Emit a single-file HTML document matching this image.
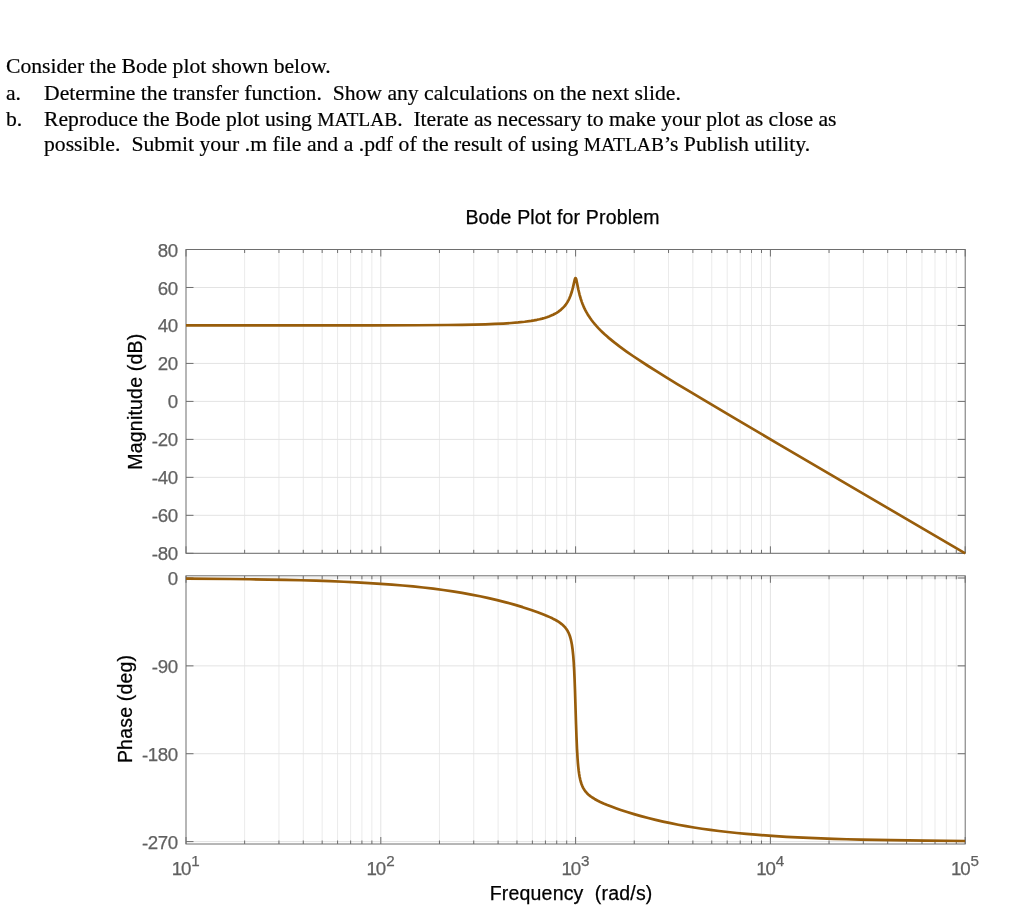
<!DOCTYPE html>
<html><head><meta charset="utf-8"><title>Bode Plot</title>
<style>
html,body{margin:0;padding:0;background:#fff;}
body{width:1024px;height:911px;position:relative;overflow:hidden;}
.t{position:absolute;left:-0.9px;top:0;will-change:transform;font-family:"Liberation Serif","Times New Roman",serif;font-size:21.67px;color:#000;white-space:nowrap;-webkit-text-stroke:0.2px #000;}
.ln{position:absolute;white-space:nowrap;line-height:1;}
.sc{font-size:19.5px;}
svg.plot{position:absolute;left:0;top:0;will-change:transform;}
</style></head><body>
<div class="t">
<div class="ln" style="left:7px;top:56.4px">Consider the Bode plot shown below.</div>
<div class="ln" style="left:7px;top:82.85px">a.</div>
<div class="ln" style="left:45px;top:82.85px">Determine the transfer function.&nbsp; Show any calculations on the next slide.</div>
<div class="ln" style="left:7px;top:108.55px">b.</div>
<div class="ln" style="left:45px;top:108.55px;word-spacing:-0.1px">Reproduce the Bode plot using <span class="sc">MATLAB</span>.&nbsp; Iterate as necessary to make your plot as close as</div>
<div class="ln" style="left:45px;top:133.65px;word-spacing:0.1px">possible.&nbsp; Submit your .m file and a .pdf of the result of using <span class="sc">MATLAB</span>&rsquo;s Publish utility.</div>
</div>
<svg class="plot" width="1024" height="911" viewBox="0 0 1024 911">
<line x1="244.64" y1="249.5" x2="244.64" y2="553.3" stroke="#ebebeb" stroke-width="1"/>
<line x1="278.94" y1="249.5" x2="278.94" y2="553.3" stroke="#ebebeb" stroke-width="1"/>
<line x1="303.28" y1="249.5" x2="303.28" y2="553.3" stroke="#ebebeb" stroke-width="1"/>
<line x1="322.16" y1="249.5" x2="322.16" y2="553.3" stroke="#ebebeb" stroke-width="1"/>
<line x1="337.58" y1="249.5" x2="337.58" y2="553.3" stroke="#ebebeb" stroke-width="1"/>
<line x1="350.63" y1="249.5" x2="350.63" y2="553.3" stroke="#ebebeb" stroke-width="1"/>
<line x1="361.92" y1="249.5" x2="361.92" y2="553.3" stroke="#ebebeb" stroke-width="1"/>
<line x1="371.89" y1="249.5" x2="371.89" y2="553.3" stroke="#ebebeb" stroke-width="1"/>
<line x1="439.44" y1="249.5" x2="439.44" y2="553.3" stroke="#ebebeb" stroke-width="1"/>
<line x1="473.74" y1="249.5" x2="473.74" y2="553.3" stroke="#ebebeb" stroke-width="1"/>
<line x1="498.08" y1="249.5" x2="498.08" y2="553.3" stroke="#ebebeb" stroke-width="1"/>
<line x1="516.96" y1="249.5" x2="516.96" y2="553.3" stroke="#ebebeb" stroke-width="1"/>
<line x1="532.38" y1="249.5" x2="532.38" y2="553.3" stroke="#ebebeb" stroke-width="1"/>
<line x1="545.43" y1="249.5" x2="545.43" y2="553.3" stroke="#ebebeb" stroke-width="1"/>
<line x1="556.72" y1="249.5" x2="556.72" y2="553.3" stroke="#ebebeb" stroke-width="1"/>
<line x1="566.69" y1="249.5" x2="566.69" y2="553.3" stroke="#ebebeb" stroke-width="1"/>
<line x1="634.24" y1="249.5" x2="634.24" y2="553.3" stroke="#ebebeb" stroke-width="1"/>
<line x1="668.54" y1="249.5" x2="668.54" y2="553.3" stroke="#ebebeb" stroke-width="1"/>
<line x1="692.88" y1="249.5" x2="692.88" y2="553.3" stroke="#ebebeb" stroke-width="1"/>
<line x1="711.76" y1="249.5" x2="711.76" y2="553.3" stroke="#ebebeb" stroke-width="1"/>
<line x1="727.18" y1="249.5" x2="727.18" y2="553.3" stroke="#ebebeb" stroke-width="1"/>
<line x1="740.23" y1="249.5" x2="740.23" y2="553.3" stroke="#ebebeb" stroke-width="1"/>
<line x1="751.52" y1="249.5" x2="751.52" y2="553.3" stroke="#ebebeb" stroke-width="1"/>
<line x1="761.49" y1="249.5" x2="761.49" y2="553.3" stroke="#ebebeb" stroke-width="1"/>
<line x1="829.04" y1="249.5" x2="829.04" y2="553.3" stroke="#ebebeb" stroke-width="1"/>
<line x1="863.34" y1="249.5" x2="863.34" y2="553.3" stroke="#ebebeb" stroke-width="1"/>
<line x1="887.68" y1="249.5" x2="887.68" y2="553.3" stroke="#ebebeb" stroke-width="1"/>
<line x1="906.56" y1="249.5" x2="906.56" y2="553.3" stroke="#ebebeb" stroke-width="1"/>
<line x1="921.98" y1="249.5" x2="921.98" y2="553.3" stroke="#ebebeb" stroke-width="1"/>
<line x1="935.03" y1="249.5" x2="935.03" y2="553.3" stroke="#ebebeb" stroke-width="1"/>
<line x1="946.32" y1="249.5" x2="946.32" y2="553.3" stroke="#ebebeb" stroke-width="1"/>
<line x1="956.29" y1="249.5" x2="956.29" y2="553.3" stroke="#ebebeb" stroke-width="1"/>
<line x1="380.80" y1="249.5" x2="380.80" y2="553.3" stroke="#e3e3e3" stroke-width="1"/>
<line x1="575.60" y1="249.5" x2="575.60" y2="553.3" stroke="#e3e3e3" stroke-width="1"/>
<line x1="770.40" y1="249.5" x2="770.40" y2="553.3" stroke="#e3e3e3" stroke-width="1"/>
<line x1="186.0" y1="249.50" x2="965.20" y2="249.50" stroke="#e3e3e3" stroke-width="1"/>
<line x1="186.0" y1="287.48" x2="965.20" y2="287.48" stroke="#e3e3e3" stroke-width="1"/>
<line x1="186.0" y1="325.45" x2="965.20" y2="325.45" stroke="#e3e3e3" stroke-width="1"/>
<line x1="186.0" y1="363.42" x2="965.20" y2="363.42" stroke="#e3e3e3" stroke-width="1"/>
<line x1="186.0" y1="401.40" x2="965.20" y2="401.40" stroke="#e3e3e3" stroke-width="1"/>
<line x1="186.0" y1="439.38" x2="965.20" y2="439.38" stroke="#e3e3e3" stroke-width="1"/>
<line x1="186.0" y1="477.35" x2="965.20" y2="477.35" stroke="#e3e3e3" stroke-width="1"/>
<line x1="186.0" y1="515.32" x2="965.20" y2="515.32" stroke="#e3e3e3" stroke-width="1"/>
<line x1="186.0" y1="553.30" x2="965.20" y2="553.30" stroke="#e3e3e3" stroke-width="1"/>
<line x1="244.64" y1="575.8" x2="244.64" y2="844.0" stroke="#ebebeb" stroke-width="1"/>
<line x1="278.94" y1="575.8" x2="278.94" y2="844.0" stroke="#ebebeb" stroke-width="1"/>
<line x1="303.28" y1="575.8" x2="303.28" y2="844.0" stroke="#ebebeb" stroke-width="1"/>
<line x1="322.16" y1="575.8" x2="322.16" y2="844.0" stroke="#ebebeb" stroke-width="1"/>
<line x1="337.58" y1="575.8" x2="337.58" y2="844.0" stroke="#ebebeb" stroke-width="1"/>
<line x1="350.63" y1="575.8" x2="350.63" y2="844.0" stroke="#ebebeb" stroke-width="1"/>
<line x1="361.92" y1="575.8" x2="361.92" y2="844.0" stroke="#ebebeb" stroke-width="1"/>
<line x1="371.89" y1="575.8" x2="371.89" y2="844.0" stroke="#ebebeb" stroke-width="1"/>
<line x1="439.44" y1="575.8" x2="439.44" y2="844.0" stroke="#ebebeb" stroke-width="1"/>
<line x1="473.74" y1="575.8" x2="473.74" y2="844.0" stroke="#ebebeb" stroke-width="1"/>
<line x1="498.08" y1="575.8" x2="498.08" y2="844.0" stroke="#ebebeb" stroke-width="1"/>
<line x1="516.96" y1="575.8" x2="516.96" y2="844.0" stroke="#ebebeb" stroke-width="1"/>
<line x1="532.38" y1="575.8" x2="532.38" y2="844.0" stroke="#ebebeb" stroke-width="1"/>
<line x1="545.43" y1="575.8" x2="545.43" y2="844.0" stroke="#ebebeb" stroke-width="1"/>
<line x1="556.72" y1="575.8" x2="556.72" y2="844.0" stroke="#ebebeb" stroke-width="1"/>
<line x1="566.69" y1="575.8" x2="566.69" y2="844.0" stroke="#ebebeb" stroke-width="1"/>
<line x1="634.24" y1="575.8" x2="634.24" y2="844.0" stroke="#ebebeb" stroke-width="1"/>
<line x1="668.54" y1="575.8" x2="668.54" y2="844.0" stroke="#ebebeb" stroke-width="1"/>
<line x1="692.88" y1="575.8" x2="692.88" y2="844.0" stroke="#ebebeb" stroke-width="1"/>
<line x1="711.76" y1="575.8" x2="711.76" y2="844.0" stroke="#ebebeb" stroke-width="1"/>
<line x1="727.18" y1="575.8" x2="727.18" y2="844.0" stroke="#ebebeb" stroke-width="1"/>
<line x1="740.23" y1="575.8" x2="740.23" y2="844.0" stroke="#ebebeb" stroke-width="1"/>
<line x1="751.52" y1="575.8" x2="751.52" y2="844.0" stroke="#ebebeb" stroke-width="1"/>
<line x1="761.49" y1="575.8" x2="761.49" y2="844.0" stroke="#ebebeb" stroke-width="1"/>
<line x1="829.04" y1="575.8" x2="829.04" y2="844.0" stroke="#ebebeb" stroke-width="1"/>
<line x1="863.34" y1="575.8" x2="863.34" y2="844.0" stroke="#ebebeb" stroke-width="1"/>
<line x1="887.68" y1="575.8" x2="887.68" y2="844.0" stroke="#ebebeb" stroke-width="1"/>
<line x1="906.56" y1="575.8" x2="906.56" y2="844.0" stroke="#ebebeb" stroke-width="1"/>
<line x1="921.98" y1="575.8" x2="921.98" y2="844.0" stroke="#ebebeb" stroke-width="1"/>
<line x1="935.03" y1="575.8" x2="935.03" y2="844.0" stroke="#ebebeb" stroke-width="1"/>
<line x1="946.32" y1="575.8" x2="946.32" y2="844.0" stroke="#ebebeb" stroke-width="1"/>
<line x1="956.29" y1="575.8" x2="956.29" y2="844.0" stroke="#ebebeb" stroke-width="1"/>
<line x1="380.80" y1="575.8" x2="380.80" y2="844.0" stroke="#e3e3e3" stroke-width="1"/>
<line x1="575.60" y1="575.8" x2="575.60" y2="844.0" stroke="#e3e3e3" stroke-width="1"/>
<line x1="770.40" y1="575.8" x2="770.40" y2="844.0" stroke="#e3e3e3" stroke-width="1"/>
<line x1="186.0" y1="578.00" x2="965.20" y2="578.00" stroke="#e3e3e3" stroke-width="1"/>
<line x1="186.0" y1="665.87" x2="965.20" y2="665.87" stroke="#e3e3e3" stroke-width="1"/>
<line x1="186.0" y1="753.73" x2="965.20" y2="753.73" stroke="#e3e3e3" stroke-width="1"/>
<line x1="186.0" y1="841.60" x2="965.20" y2="841.60" stroke="#e3e3e3" stroke-width="1"/>
<line x1="186.00" y1="249.5" x2="186.00" y2="256.5" stroke="#6e6e6e" stroke-width="1"/>
<line x1="186.00" y1="553.3" x2="186.00" y2="546.3" stroke="#6e6e6e" stroke-width="1"/>
<line x1="244.64" y1="249.5" x2="244.64" y2="253.0" stroke="#6e6e6e" stroke-width="1"/>
<line x1="244.64" y1="553.3" x2="244.64" y2="549.8" stroke="#6e6e6e" stroke-width="1"/>
<line x1="278.94" y1="249.5" x2="278.94" y2="253.0" stroke="#6e6e6e" stroke-width="1"/>
<line x1="278.94" y1="553.3" x2="278.94" y2="549.8" stroke="#6e6e6e" stroke-width="1"/>
<line x1="303.28" y1="249.5" x2="303.28" y2="253.0" stroke="#6e6e6e" stroke-width="1"/>
<line x1="303.28" y1="553.3" x2="303.28" y2="549.8" stroke="#6e6e6e" stroke-width="1"/>
<line x1="322.16" y1="249.5" x2="322.16" y2="253.0" stroke="#6e6e6e" stroke-width="1"/>
<line x1="322.16" y1="553.3" x2="322.16" y2="549.8" stroke="#6e6e6e" stroke-width="1"/>
<line x1="337.58" y1="249.5" x2="337.58" y2="253.0" stroke="#6e6e6e" stroke-width="1"/>
<line x1="337.58" y1="553.3" x2="337.58" y2="549.8" stroke="#6e6e6e" stroke-width="1"/>
<line x1="350.63" y1="249.5" x2="350.63" y2="253.0" stroke="#6e6e6e" stroke-width="1"/>
<line x1="350.63" y1="553.3" x2="350.63" y2="549.8" stroke="#6e6e6e" stroke-width="1"/>
<line x1="361.92" y1="249.5" x2="361.92" y2="253.0" stroke="#6e6e6e" stroke-width="1"/>
<line x1="361.92" y1="553.3" x2="361.92" y2="549.8" stroke="#6e6e6e" stroke-width="1"/>
<line x1="371.89" y1="249.5" x2="371.89" y2="253.0" stroke="#6e6e6e" stroke-width="1"/>
<line x1="371.89" y1="553.3" x2="371.89" y2="549.8" stroke="#6e6e6e" stroke-width="1"/>
<line x1="380.80" y1="249.5" x2="380.80" y2="256.5" stroke="#6e6e6e" stroke-width="1"/>
<line x1="380.80" y1="553.3" x2="380.80" y2="546.3" stroke="#6e6e6e" stroke-width="1"/>
<line x1="439.44" y1="249.5" x2="439.44" y2="253.0" stroke="#6e6e6e" stroke-width="1"/>
<line x1="439.44" y1="553.3" x2="439.44" y2="549.8" stroke="#6e6e6e" stroke-width="1"/>
<line x1="473.74" y1="249.5" x2="473.74" y2="253.0" stroke="#6e6e6e" stroke-width="1"/>
<line x1="473.74" y1="553.3" x2="473.74" y2="549.8" stroke="#6e6e6e" stroke-width="1"/>
<line x1="498.08" y1="249.5" x2="498.08" y2="253.0" stroke="#6e6e6e" stroke-width="1"/>
<line x1="498.08" y1="553.3" x2="498.08" y2="549.8" stroke="#6e6e6e" stroke-width="1"/>
<line x1="516.96" y1="249.5" x2="516.96" y2="253.0" stroke="#6e6e6e" stroke-width="1"/>
<line x1="516.96" y1="553.3" x2="516.96" y2="549.8" stroke="#6e6e6e" stroke-width="1"/>
<line x1="532.38" y1="249.5" x2="532.38" y2="253.0" stroke="#6e6e6e" stroke-width="1"/>
<line x1="532.38" y1="553.3" x2="532.38" y2="549.8" stroke="#6e6e6e" stroke-width="1"/>
<line x1="545.43" y1="249.5" x2="545.43" y2="253.0" stroke="#6e6e6e" stroke-width="1"/>
<line x1="545.43" y1="553.3" x2="545.43" y2="549.8" stroke="#6e6e6e" stroke-width="1"/>
<line x1="556.72" y1="249.5" x2="556.72" y2="253.0" stroke="#6e6e6e" stroke-width="1"/>
<line x1="556.72" y1="553.3" x2="556.72" y2="549.8" stroke="#6e6e6e" stroke-width="1"/>
<line x1="566.69" y1="249.5" x2="566.69" y2="253.0" stroke="#6e6e6e" stroke-width="1"/>
<line x1="566.69" y1="553.3" x2="566.69" y2="549.8" stroke="#6e6e6e" stroke-width="1"/>
<line x1="575.60" y1="249.5" x2="575.60" y2="256.5" stroke="#6e6e6e" stroke-width="1"/>
<line x1="575.60" y1="553.3" x2="575.60" y2="546.3" stroke="#6e6e6e" stroke-width="1"/>
<line x1="634.24" y1="249.5" x2="634.24" y2="253.0" stroke="#6e6e6e" stroke-width="1"/>
<line x1="634.24" y1="553.3" x2="634.24" y2="549.8" stroke="#6e6e6e" stroke-width="1"/>
<line x1="668.54" y1="249.5" x2="668.54" y2="253.0" stroke="#6e6e6e" stroke-width="1"/>
<line x1="668.54" y1="553.3" x2="668.54" y2="549.8" stroke="#6e6e6e" stroke-width="1"/>
<line x1="692.88" y1="249.5" x2="692.88" y2="253.0" stroke="#6e6e6e" stroke-width="1"/>
<line x1="692.88" y1="553.3" x2="692.88" y2="549.8" stroke="#6e6e6e" stroke-width="1"/>
<line x1="711.76" y1="249.5" x2="711.76" y2="253.0" stroke="#6e6e6e" stroke-width="1"/>
<line x1="711.76" y1="553.3" x2="711.76" y2="549.8" stroke="#6e6e6e" stroke-width="1"/>
<line x1="727.18" y1="249.5" x2="727.18" y2="253.0" stroke="#6e6e6e" stroke-width="1"/>
<line x1="727.18" y1="553.3" x2="727.18" y2="549.8" stroke="#6e6e6e" stroke-width="1"/>
<line x1="740.23" y1="249.5" x2="740.23" y2="253.0" stroke="#6e6e6e" stroke-width="1"/>
<line x1="740.23" y1="553.3" x2="740.23" y2="549.8" stroke="#6e6e6e" stroke-width="1"/>
<line x1="751.52" y1="249.5" x2="751.52" y2="253.0" stroke="#6e6e6e" stroke-width="1"/>
<line x1="751.52" y1="553.3" x2="751.52" y2="549.8" stroke="#6e6e6e" stroke-width="1"/>
<line x1="761.49" y1="249.5" x2="761.49" y2="253.0" stroke="#6e6e6e" stroke-width="1"/>
<line x1="761.49" y1="553.3" x2="761.49" y2="549.8" stroke="#6e6e6e" stroke-width="1"/>
<line x1="770.40" y1="249.5" x2="770.40" y2="256.5" stroke="#6e6e6e" stroke-width="1"/>
<line x1="770.40" y1="553.3" x2="770.40" y2="546.3" stroke="#6e6e6e" stroke-width="1"/>
<line x1="829.04" y1="249.5" x2="829.04" y2="253.0" stroke="#6e6e6e" stroke-width="1"/>
<line x1="829.04" y1="553.3" x2="829.04" y2="549.8" stroke="#6e6e6e" stroke-width="1"/>
<line x1="863.34" y1="249.5" x2="863.34" y2="253.0" stroke="#6e6e6e" stroke-width="1"/>
<line x1="863.34" y1="553.3" x2="863.34" y2="549.8" stroke="#6e6e6e" stroke-width="1"/>
<line x1="887.68" y1="249.5" x2="887.68" y2="253.0" stroke="#6e6e6e" stroke-width="1"/>
<line x1="887.68" y1="553.3" x2="887.68" y2="549.8" stroke="#6e6e6e" stroke-width="1"/>
<line x1="906.56" y1="249.5" x2="906.56" y2="253.0" stroke="#6e6e6e" stroke-width="1"/>
<line x1="906.56" y1="553.3" x2="906.56" y2="549.8" stroke="#6e6e6e" stroke-width="1"/>
<line x1="921.98" y1="249.5" x2="921.98" y2="253.0" stroke="#6e6e6e" stroke-width="1"/>
<line x1="921.98" y1="553.3" x2="921.98" y2="549.8" stroke="#6e6e6e" stroke-width="1"/>
<line x1="935.03" y1="249.5" x2="935.03" y2="253.0" stroke="#6e6e6e" stroke-width="1"/>
<line x1="935.03" y1="553.3" x2="935.03" y2="549.8" stroke="#6e6e6e" stroke-width="1"/>
<line x1="946.32" y1="249.5" x2="946.32" y2="253.0" stroke="#6e6e6e" stroke-width="1"/>
<line x1="946.32" y1="553.3" x2="946.32" y2="549.8" stroke="#6e6e6e" stroke-width="1"/>
<line x1="956.29" y1="249.5" x2="956.29" y2="253.0" stroke="#6e6e6e" stroke-width="1"/>
<line x1="956.29" y1="553.3" x2="956.29" y2="549.8" stroke="#6e6e6e" stroke-width="1"/>
<line x1="965.20" y1="249.5" x2="965.20" y2="256.5" stroke="#6e6e6e" stroke-width="1"/>
<line x1="965.20" y1="553.3" x2="965.20" y2="546.3" stroke="#6e6e6e" stroke-width="1"/>
<line x1="186.0" y1="249.50" x2="193.5" y2="249.50" stroke="#6e6e6e" stroke-width="1"/>
<line x1="965.20" y1="249.50" x2="957.70" y2="249.50" stroke="#6e6e6e" stroke-width="1"/>
<line x1="186.0" y1="287.48" x2="193.5" y2="287.48" stroke="#6e6e6e" stroke-width="1"/>
<line x1="965.20" y1="287.48" x2="957.70" y2="287.48" stroke="#6e6e6e" stroke-width="1"/>
<line x1="186.0" y1="325.45" x2="193.5" y2="325.45" stroke="#6e6e6e" stroke-width="1"/>
<line x1="965.20" y1="325.45" x2="957.70" y2="325.45" stroke="#6e6e6e" stroke-width="1"/>
<line x1="186.0" y1="363.42" x2="193.5" y2="363.42" stroke="#6e6e6e" stroke-width="1"/>
<line x1="965.20" y1="363.42" x2="957.70" y2="363.42" stroke="#6e6e6e" stroke-width="1"/>
<line x1="186.0" y1="401.40" x2="193.5" y2="401.40" stroke="#6e6e6e" stroke-width="1"/>
<line x1="965.20" y1="401.40" x2="957.70" y2="401.40" stroke="#6e6e6e" stroke-width="1"/>
<line x1="186.0" y1="439.38" x2="193.5" y2="439.38" stroke="#6e6e6e" stroke-width="1"/>
<line x1="965.20" y1="439.38" x2="957.70" y2="439.38" stroke="#6e6e6e" stroke-width="1"/>
<line x1="186.0" y1="477.35" x2="193.5" y2="477.35" stroke="#6e6e6e" stroke-width="1"/>
<line x1="965.20" y1="477.35" x2="957.70" y2="477.35" stroke="#6e6e6e" stroke-width="1"/>
<line x1="186.0" y1="515.32" x2="193.5" y2="515.32" stroke="#6e6e6e" stroke-width="1"/>
<line x1="965.20" y1="515.32" x2="957.70" y2="515.32" stroke="#6e6e6e" stroke-width="1"/>
<line x1="186.0" y1="553.30" x2="193.5" y2="553.30" stroke="#6e6e6e" stroke-width="1"/>
<line x1="965.20" y1="553.30" x2="957.70" y2="553.30" stroke="#6e6e6e" stroke-width="1"/>
<rect x="186.0" y="249.5" width="779.20" height="303.80" fill="none" stroke="#6e6e6e" stroke-width="1"/>
<line x1="186.00" y1="575.8" x2="186.00" y2="582.8" stroke="#6e6e6e" stroke-width="1"/>
<line x1="186.00" y1="844.0" x2="186.00" y2="837.0" stroke="#6e6e6e" stroke-width="1"/>
<line x1="244.64" y1="575.8" x2="244.64" y2="579.3" stroke="#6e6e6e" stroke-width="1"/>
<line x1="244.64" y1="844.0" x2="244.64" y2="840.5" stroke="#6e6e6e" stroke-width="1"/>
<line x1="278.94" y1="575.8" x2="278.94" y2="579.3" stroke="#6e6e6e" stroke-width="1"/>
<line x1="278.94" y1="844.0" x2="278.94" y2="840.5" stroke="#6e6e6e" stroke-width="1"/>
<line x1="303.28" y1="575.8" x2="303.28" y2="579.3" stroke="#6e6e6e" stroke-width="1"/>
<line x1="303.28" y1="844.0" x2="303.28" y2="840.5" stroke="#6e6e6e" stroke-width="1"/>
<line x1="322.16" y1="575.8" x2="322.16" y2="579.3" stroke="#6e6e6e" stroke-width="1"/>
<line x1="322.16" y1="844.0" x2="322.16" y2="840.5" stroke="#6e6e6e" stroke-width="1"/>
<line x1="337.58" y1="575.8" x2="337.58" y2="579.3" stroke="#6e6e6e" stroke-width="1"/>
<line x1="337.58" y1="844.0" x2="337.58" y2="840.5" stroke="#6e6e6e" stroke-width="1"/>
<line x1="350.63" y1="575.8" x2="350.63" y2="579.3" stroke="#6e6e6e" stroke-width="1"/>
<line x1="350.63" y1="844.0" x2="350.63" y2="840.5" stroke="#6e6e6e" stroke-width="1"/>
<line x1="361.92" y1="575.8" x2="361.92" y2="579.3" stroke="#6e6e6e" stroke-width="1"/>
<line x1="361.92" y1="844.0" x2="361.92" y2="840.5" stroke="#6e6e6e" stroke-width="1"/>
<line x1="371.89" y1="575.8" x2="371.89" y2="579.3" stroke="#6e6e6e" stroke-width="1"/>
<line x1="371.89" y1="844.0" x2="371.89" y2="840.5" stroke="#6e6e6e" stroke-width="1"/>
<line x1="380.80" y1="575.8" x2="380.80" y2="582.8" stroke="#6e6e6e" stroke-width="1"/>
<line x1="380.80" y1="844.0" x2="380.80" y2="837.0" stroke="#6e6e6e" stroke-width="1"/>
<line x1="439.44" y1="575.8" x2="439.44" y2="579.3" stroke="#6e6e6e" stroke-width="1"/>
<line x1="439.44" y1="844.0" x2="439.44" y2="840.5" stroke="#6e6e6e" stroke-width="1"/>
<line x1="473.74" y1="575.8" x2="473.74" y2="579.3" stroke="#6e6e6e" stroke-width="1"/>
<line x1="473.74" y1="844.0" x2="473.74" y2="840.5" stroke="#6e6e6e" stroke-width="1"/>
<line x1="498.08" y1="575.8" x2="498.08" y2="579.3" stroke="#6e6e6e" stroke-width="1"/>
<line x1="498.08" y1="844.0" x2="498.08" y2="840.5" stroke="#6e6e6e" stroke-width="1"/>
<line x1="516.96" y1="575.8" x2="516.96" y2="579.3" stroke="#6e6e6e" stroke-width="1"/>
<line x1="516.96" y1="844.0" x2="516.96" y2="840.5" stroke="#6e6e6e" stroke-width="1"/>
<line x1="532.38" y1="575.8" x2="532.38" y2="579.3" stroke="#6e6e6e" stroke-width="1"/>
<line x1="532.38" y1="844.0" x2="532.38" y2="840.5" stroke="#6e6e6e" stroke-width="1"/>
<line x1="545.43" y1="575.8" x2="545.43" y2="579.3" stroke="#6e6e6e" stroke-width="1"/>
<line x1="545.43" y1="844.0" x2="545.43" y2="840.5" stroke="#6e6e6e" stroke-width="1"/>
<line x1="556.72" y1="575.8" x2="556.72" y2="579.3" stroke="#6e6e6e" stroke-width="1"/>
<line x1="556.72" y1="844.0" x2="556.72" y2="840.5" stroke="#6e6e6e" stroke-width="1"/>
<line x1="566.69" y1="575.8" x2="566.69" y2="579.3" stroke="#6e6e6e" stroke-width="1"/>
<line x1="566.69" y1="844.0" x2="566.69" y2="840.5" stroke="#6e6e6e" stroke-width="1"/>
<line x1="575.60" y1="575.8" x2="575.60" y2="582.8" stroke="#6e6e6e" stroke-width="1"/>
<line x1="575.60" y1="844.0" x2="575.60" y2="837.0" stroke="#6e6e6e" stroke-width="1"/>
<line x1="634.24" y1="575.8" x2="634.24" y2="579.3" stroke="#6e6e6e" stroke-width="1"/>
<line x1="634.24" y1="844.0" x2="634.24" y2="840.5" stroke="#6e6e6e" stroke-width="1"/>
<line x1="668.54" y1="575.8" x2="668.54" y2="579.3" stroke="#6e6e6e" stroke-width="1"/>
<line x1="668.54" y1="844.0" x2="668.54" y2="840.5" stroke="#6e6e6e" stroke-width="1"/>
<line x1="692.88" y1="575.8" x2="692.88" y2="579.3" stroke="#6e6e6e" stroke-width="1"/>
<line x1="692.88" y1="844.0" x2="692.88" y2="840.5" stroke="#6e6e6e" stroke-width="1"/>
<line x1="711.76" y1="575.8" x2="711.76" y2="579.3" stroke="#6e6e6e" stroke-width="1"/>
<line x1="711.76" y1="844.0" x2="711.76" y2="840.5" stroke="#6e6e6e" stroke-width="1"/>
<line x1="727.18" y1="575.8" x2="727.18" y2="579.3" stroke="#6e6e6e" stroke-width="1"/>
<line x1="727.18" y1="844.0" x2="727.18" y2="840.5" stroke="#6e6e6e" stroke-width="1"/>
<line x1="740.23" y1="575.8" x2="740.23" y2="579.3" stroke="#6e6e6e" stroke-width="1"/>
<line x1="740.23" y1="844.0" x2="740.23" y2="840.5" stroke="#6e6e6e" stroke-width="1"/>
<line x1="751.52" y1="575.8" x2="751.52" y2="579.3" stroke="#6e6e6e" stroke-width="1"/>
<line x1="751.52" y1="844.0" x2="751.52" y2="840.5" stroke="#6e6e6e" stroke-width="1"/>
<line x1="761.49" y1="575.8" x2="761.49" y2="579.3" stroke="#6e6e6e" stroke-width="1"/>
<line x1="761.49" y1="844.0" x2="761.49" y2="840.5" stroke="#6e6e6e" stroke-width="1"/>
<line x1="770.40" y1="575.8" x2="770.40" y2="582.8" stroke="#6e6e6e" stroke-width="1"/>
<line x1="770.40" y1="844.0" x2="770.40" y2="837.0" stroke="#6e6e6e" stroke-width="1"/>
<line x1="829.04" y1="575.8" x2="829.04" y2="579.3" stroke="#6e6e6e" stroke-width="1"/>
<line x1="829.04" y1="844.0" x2="829.04" y2="840.5" stroke="#6e6e6e" stroke-width="1"/>
<line x1="863.34" y1="575.8" x2="863.34" y2="579.3" stroke="#6e6e6e" stroke-width="1"/>
<line x1="863.34" y1="844.0" x2="863.34" y2="840.5" stroke="#6e6e6e" stroke-width="1"/>
<line x1="887.68" y1="575.8" x2="887.68" y2="579.3" stroke="#6e6e6e" stroke-width="1"/>
<line x1="887.68" y1="844.0" x2="887.68" y2="840.5" stroke="#6e6e6e" stroke-width="1"/>
<line x1="906.56" y1="575.8" x2="906.56" y2="579.3" stroke="#6e6e6e" stroke-width="1"/>
<line x1="906.56" y1="844.0" x2="906.56" y2="840.5" stroke="#6e6e6e" stroke-width="1"/>
<line x1="921.98" y1="575.8" x2="921.98" y2="579.3" stroke="#6e6e6e" stroke-width="1"/>
<line x1="921.98" y1="844.0" x2="921.98" y2="840.5" stroke="#6e6e6e" stroke-width="1"/>
<line x1="935.03" y1="575.8" x2="935.03" y2="579.3" stroke="#6e6e6e" stroke-width="1"/>
<line x1="935.03" y1="844.0" x2="935.03" y2="840.5" stroke="#6e6e6e" stroke-width="1"/>
<line x1="946.32" y1="575.8" x2="946.32" y2="579.3" stroke="#6e6e6e" stroke-width="1"/>
<line x1="946.32" y1="844.0" x2="946.32" y2="840.5" stroke="#6e6e6e" stroke-width="1"/>
<line x1="956.29" y1="575.8" x2="956.29" y2="579.3" stroke="#6e6e6e" stroke-width="1"/>
<line x1="956.29" y1="844.0" x2="956.29" y2="840.5" stroke="#6e6e6e" stroke-width="1"/>
<line x1="965.20" y1="575.8" x2="965.20" y2="582.8" stroke="#6e6e6e" stroke-width="1"/>
<line x1="965.20" y1="844.0" x2="965.20" y2="837.0" stroke="#6e6e6e" stroke-width="1"/>
<line x1="186.0" y1="578.00" x2="193.5" y2="578.00" stroke="#6e6e6e" stroke-width="1"/>
<line x1="965.20" y1="578.00" x2="957.70" y2="578.00" stroke="#6e6e6e" stroke-width="1"/>
<line x1="186.0" y1="665.87" x2="193.5" y2="665.87" stroke="#6e6e6e" stroke-width="1"/>
<line x1="965.20" y1="665.87" x2="957.70" y2="665.87" stroke="#6e6e6e" stroke-width="1"/>
<line x1="186.0" y1="753.73" x2="193.5" y2="753.73" stroke="#6e6e6e" stroke-width="1"/>
<line x1="965.20" y1="753.73" x2="957.70" y2="753.73" stroke="#6e6e6e" stroke-width="1"/>
<line x1="186.0" y1="841.60" x2="193.5" y2="841.60" stroke="#6e6e6e" stroke-width="1"/>
<line x1="965.20" y1="841.60" x2="957.70" y2="841.60" stroke="#6e6e6e" stroke-width="1"/>
<rect x="186.0" y="575.8" width="779.20" height="268.20" fill="none" stroke="#6e6e6e" stroke-width="1"/>
<polyline points="186.00,325.45 309.73,325.43 372.67,325.38 416.31,325.25 447.88,325.02 462.10,324.83 474.38,324.59 485.29,324.30 494.84,323.95 503.41,323.53 511.20,323.02 518.22,322.43 524.65,321.74 531.08,320.85 534.00,320.36 536.92,319.80 539.65,319.20 542.18,318.58 544.52,317.93 546.86,317.20 549.00,316.44 551.15,315.58 553.09,314.71 554.85,313.82 556.60,312.82 558.16,311.82 559.72,310.70 561.08,309.59 562.45,308.35 563.62,307.16 564.79,305.82 565.76,304.57 566.74,303.16 567.66,301.68 568.52,300.12 569.33,298.47 570.55,295.54 571.65,292.30 572.26,290.20 572.86,287.90 574.75,279.67 574.99,278.90 575.21,278.40 575.41,278.13 575.60,278.08 575.80,278.25 576.00,278.65 576.45,280.17 578.33,289.44 579.53,294.55 580.64,298.46 581.87,302.12 582.67,304.24 583.54,306.32 584.47,308.36 585.44,310.32 586.41,312.14 587.58,314.17 588.75,316.05 590.12,318.08 591.48,319.98 593.04,322.02 594.60,323.93 596.35,325.95 598.11,327.87 600.05,329.89 602.20,331.99 604.34,334.01 606.68,336.11 609.02,338.12 614.28,342.42 620.12,346.89 626.55,351.54 632.98,355.99 640.00,360.68 647.79,365.75 656.36,371.18 665.91,377.12 676.82,383.79 689.10,391.21 703.32,399.71 734.89,418.41 778.53,444.06 965.20,553.30" fill="none" stroke="#985d0b" stroke-width="2.7" stroke-linejoin="round"/>
<svg x="186.0" y="575.8" width="779.20" height="268.20" viewBox="186.0 575.8 779.20 268.20" overflow="hidden"><polyline points="186.00,578.58 230.23,578.98 249.91,579.24 268.03,579.53 284.98,579.87 300.96,580.26 315.96,580.70 330.19,581.20 343.83,581.75 356.69,582.37 368.96,583.05 380.65,583.79 391.96,584.61 402.67,585.50 413.00,586.46 423.13,587.52 433.26,588.71 443.20,590.02 452.75,591.42 462.10,592.93 471.26,594.57 480.03,596.29 488.60,598.13 497.17,600.13 505.94,602.35 514.32,604.66 522.70,607.16 530.49,609.68 537.70,612.22 544.13,614.70 547.05,615.92 549.78,617.13 552.32,618.34 554.46,619.44 556.41,620.52 558.36,621.71 560.11,622.89 561.67,624.08 563.03,625.25 564.40,626.60 565.57,627.95 566.54,629.25 567.47,630.72 568.32,632.28 569.07,633.95 569.76,635.77 570.38,637.72 570.94,639.87 571.45,642.21 571.92,644.81 572.62,649.79 573.22,655.69 573.75,662.72 574.22,671.11 574.58,679.18 574.95,689.07 576.04,724.28 576.49,737.14 577.00,748.88 577.55,758.27 577.89,762.86 578.26,766.88 578.67,770.52 579.12,773.76 579.61,776.68 580.17,779.34 580.78,781.74 581.47,783.91 582.32,786.11 583.29,788.11 584.47,790.06 585.63,791.65 587.00,793.21 588.56,794.70 590.31,796.13 592.26,797.51 594.60,798.97 597.33,800.47 600.25,801.92 603.56,803.43 607.26,804.98 611.35,806.58 615.84,808.23 620.71,809.92 627.14,812.01 633.96,814.09 640.97,816.09 648.18,818.01 655.59,819.85 662.99,821.56 670.59,823.19 678.19,824.70 685.98,826.13 693.97,827.48 701.96,828.71 710.34,829.90 718.91,831.01 727.68,832.03 736.84,833.00 746.19,833.89 755.74,834.71 765.48,835.45 775.61,836.14 786.33,836.79 797.44,837.38 808.93,837.91 821.01,838.40 833.48,838.84 846.73,839.24 860.57,839.60 890.96,840.20 925.45,840.67 965.20,841.02" fill="none" stroke="#985d0b" stroke-width="2.7" stroke-linejoin="round"/></svg>
<text x="177.7" y="256.5" text-anchor="end" font-size="18.7" letter-spacing="-0.4" fill="#606060" stroke="#606060" stroke-width="0.25" font-family="Liberation Sans, Arial, sans-serif">80</text>
<text x="177.7" y="294.5" text-anchor="end" font-size="18.7" letter-spacing="-0.4" fill="#606060" stroke="#606060" stroke-width="0.25" font-family="Liberation Sans, Arial, sans-serif">60</text>
<text x="177.7" y="332.4" text-anchor="end" font-size="18.7" letter-spacing="-0.4" fill="#606060" stroke="#606060" stroke-width="0.25" font-family="Liberation Sans, Arial, sans-serif">40</text>
<text x="177.7" y="370.4" text-anchor="end" font-size="18.7" letter-spacing="-0.4" fill="#606060" stroke="#606060" stroke-width="0.25" font-family="Liberation Sans, Arial, sans-serif">20</text>
<text x="177.7" y="408.4" text-anchor="end" font-size="18.7" letter-spacing="-0.4" fill="#606060" stroke="#606060" stroke-width="0.25" font-family="Liberation Sans, Arial, sans-serif">0</text>
<text x="177.7" y="446.4" text-anchor="end" font-size="18.7" letter-spacing="-0.4" fill="#606060" stroke="#606060" stroke-width="0.25" font-family="Liberation Sans, Arial, sans-serif"><tspan dy="1.1">-</tspan><tspan dy="-1.1">20</tspan></text>
<text x="177.7" y="484.3" text-anchor="end" font-size="18.7" letter-spacing="-0.4" fill="#606060" stroke="#606060" stroke-width="0.25" font-family="Liberation Sans, Arial, sans-serif"><tspan dy="1.1">-</tspan><tspan dy="-1.1">40</tspan></text>
<text x="177.7" y="522.3" text-anchor="end" font-size="18.7" letter-spacing="-0.4" fill="#606060" stroke="#606060" stroke-width="0.25" font-family="Liberation Sans, Arial, sans-serif"><tspan dy="1.1">-</tspan><tspan dy="-1.1">60</tspan></text>
<text x="177.7" y="560.3" text-anchor="end" font-size="18.7" letter-spacing="-0.4" fill="#606060" stroke="#606060" stroke-width="0.25" font-family="Liberation Sans, Arial, sans-serif"><tspan dy="1.1">-</tspan><tspan dy="-1.1">80</tspan></text>
<text x="177.7" y="585.0" text-anchor="end" font-size="18.7" letter-spacing="-0.4" fill="#606060" stroke="#606060" stroke-width="0.25" font-family="Liberation Sans, Arial, sans-serif">0</text>
<text x="177.7" y="672.9" text-anchor="end" font-size="18.7" letter-spacing="-0.4" fill="#606060" stroke="#606060" stroke-width="0.25" font-family="Liberation Sans, Arial, sans-serif"><tspan dy="1.1">-</tspan><tspan dy="-1.1">90</tspan></text>
<text x="177.7" y="760.7" text-anchor="end" font-size="18.7" letter-spacing="-0.4" fill="#606060" stroke="#606060" stroke-width="0.25" font-family="Liberation Sans, Arial, sans-serif"><tspan dy="1.1">-</tspan><tspan dy="-1.1">180</tspan></text>
<text x="177.7" y="848.6" text-anchor="end" font-size="18.7" letter-spacing="-0.4" fill="#606060" stroke="#606060" stroke-width="0.25" font-family="Liberation Sans, Arial, sans-serif"><tspan dy="1.1">-</tspan><tspan dy="-1.1">270</tspan></text>
<text x="185.8" y="874.7" text-anchor="middle" font-size="18.7" fill="#606060" stroke="#606060" stroke-width="0.25" font-family="Liberation Sans, Arial, sans-serif"><tspan letter-spacing="-1.1">10</tspan><tspan dx="1.0" dy="-8.5" font-size="15.2">1</tspan></text>
<text x="380.6" y="874.7" text-anchor="middle" font-size="18.7" fill="#606060" stroke="#606060" stroke-width="0.25" font-family="Liberation Sans, Arial, sans-serif"><tspan letter-spacing="-1.1">10</tspan><tspan dx="1.0" dy="-8.5" font-size="15.2">2</tspan></text>
<text x="575.4" y="874.7" text-anchor="middle" font-size="18.7" fill="#606060" stroke="#606060" stroke-width="0.25" font-family="Liberation Sans, Arial, sans-serif"><tspan letter-spacing="-1.1">10</tspan><tspan dx="1.0" dy="-8.5" font-size="15.2">3</tspan></text>
<text x="770.2" y="874.7" text-anchor="middle" font-size="18.7" fill="#606060" stroke="#606060" stroke-width="0.25" font-family="Liberation Sans, Arial, sans-serif"><tspan letter-spacing="-1.1">10</tspan><tspan dx="1.0" dy="-8.5" font-size="15.2">4</tspan></text>
<text x="965.0" y="874.7" text-anchor="middle" font-size="18.7" fill="#606060" stroke="#606060" stroke-width="0.25" font-family="Liberation Sans, Arial, sans-serif"><tspan letter-spacing="-1.1">10</tspan><tspan dx="1.0" dy="-8.5" font-size="15.2">5</tspan></text>
<text x="562.5" y="224.2" text-anchor="middle" font-size="19.5" letter-spacing="0.16" fill="#000" stroke="#000" stroke-width="0.25" font-family="Liberation Sans, Arial, sans-serif">Bode Plot for Problem</text>
<text x="571.1" y="899.8" text-anchor="middle" font-size="19.5" letter-spacing="0.2" fill="#000" stroke="#000" stroke-width="0.25" style="white-space:pre" font-family="Liberation Sans, Arial, sans-serif">Frequency  (rad/s)</text>
<text transform="translate(141.5,401.6) rotate(-90)" text-anchor="middle" font-size="19.5" letter-spacing="0.2" fill="#000" stroke="#000" stroke-width="0.25" font-family="Liberation Sans, Arial, sans-serif">Magnitude (dB)</text>
<text transform="translate(131.5,708.9) rotate(-90)" text-anchor="middle" font-size="19.5" letter-spacing="0.2" fill="#000" stroke="#000" stroke-width="0.25" font-family="Liberation Sans, Arial, sans-serif">Phase (deg)</text>
</svg>
</body></html>
